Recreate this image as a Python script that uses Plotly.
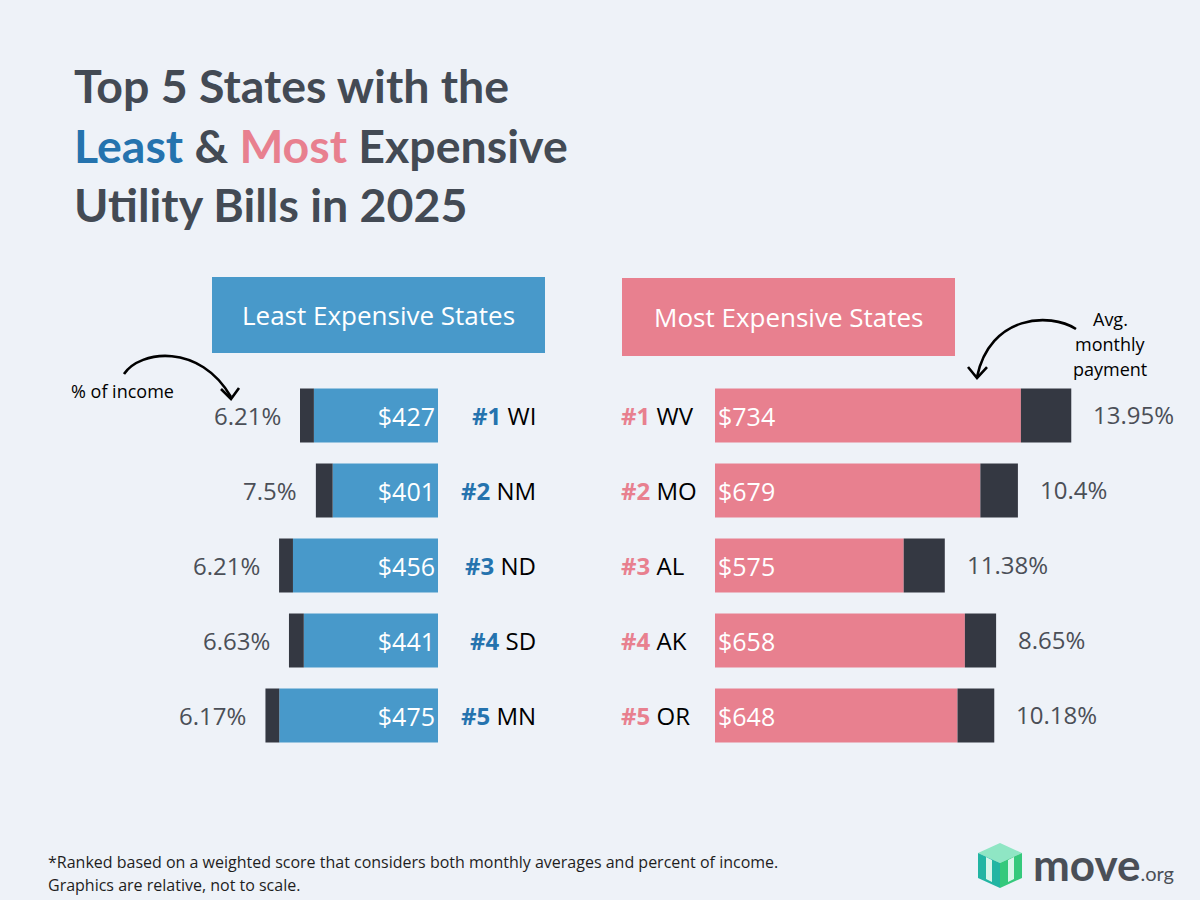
import plotly.graph_objects as go

# ---------------- data ----------------
least_ranks = [1, 2, 3, 4, 5]
least_states = ["WI", "NM", "ND", "SD", "MN"]
least_payment = [427, 401, 456, 441, 475]
least_pct = [6.21, 7.5, 6.21, 6.63, 6.17]

most_ranks = [1, 2, 3, 4, 5]
most_states = ["WV", "MO", "AL", "AK", "OR"]
most_payment = [734, 679, 575, 658, 648]
most_pct = [13.95, 10.4, 11.38, 8.65, 10.18]

# ---------------- style ----------------
W, H = 1200, 900
BG = "#EEF2F8"
BLUE = "#4899CA"
PINK = "#E8808F"
DARK = "#343842"
RANK_BLUE = "#2573AE"
TITLE_C = "#434A54"
PCT_C = "#4B4F57"
FONT = "'Open Sans', Lato, sans-serif"
TITLE_FONT = "Lato, 'Open Sans', sans-serif"

# "relative, not to scale" display scales
L_START = 255      # left axis start ($)
L_SPAN = 607       # left axis span ($)
L_PCT = 3.1        # $ units per % on left
R_START = 319
R_SPAN = 658
R_PCT = 4.9


def px(x):
    return x / W


def py(y):
    return 1 - y / H


fig = go.Figure()

# left panel bars
fig.add_trace(go.Bar(
    y=least_ranks, x=[v - L_START for v in least_payment], base=[L_START] * 5,
    orientation="h", width=0.72, marker=dict(color=BLUE, line=dict(width=0)),
    text=[f"${v}" for v in least_payment], textposition="inside",
    insidetextanchor="start", constraintext="none",
    textfont=dict(color="white", size=25, family=FONT),
    xaxis="x", yaxis="y", hoverinfo="skip", showlegend=False))
fig.add_trace(go.Bar(
    y=least_ranks, x=[p * L_PCT for p in least_pct], base=least_payment,
    orientation="h", width=0.72, marker=dict(color=DARK, line=dict(width=0)),
    xaxis="x", yaxis="y", hoverinfo="skip", showlegend=False))

# right panel bars
fig.add_trace(go.Bar(
    y=most_ranks, x=[v - R_START for v in most_payment], base=[R_START] * 5,
    orientation="h", width=0.72, marker=dict(color=PINK, line=dict(width=0)),
    text=[f"${v}" for v in most_payment], textposition="inside",
    insidetextanchor="start", constraintext="none",
    textfont=dict(color="white", size=25, family=FONT),
    xaxis="x2", yaxis="y2", hoverinfo="skip", showlegend=False))
fig.add_trace(go.Bar(
    y=most_ranks, x=[p * R_PCT for p in most_pct], base=most_payment,
    orientation="h", width=0.72, marker=dict(color=DARK, line=dict(width=0)),
    xaxis="x2", yaxis="y2", hoverinfo="skip", showlegend=False))

ydom = [py(753), py(378)]
fig.update_layout(
    width=W, height=H, margin=dict(l=0, r=0, t=0, b=0),
    paper_bgcolor=BG, plot_bgcolor=BG, barmode="overlay",
    font=dict(family=FONT),
    xaxis=dict(domain=[0, px(438)], range=[L_START + L_SPAN, L_START],
               visible=False, fixedrange=True),
    yaxis=dict(domain=ydom, range=[5.5, 0.5], visible=False, anchor="x"),
    xaxis2=dict(domain=[px(715), 1], range=[R_START, R_START + R_SPAN],
                visible=False, anchor="y2"),
    yaxis2=dict(domain=ydom, range=[5.5, 0.5], visible=False, anchor="x2"),
)

ann = []
# percent labels
for r, v, p in zip(least_ranks, least_payment, least_pct):
    ann.append(dict(x=v + p * L_PCT, y=r, xref="x", yref="y", xanchor="right",
                    yanchor="middle", xshift=-17, showarrow=False,
                    text=f"{p:g}%", font=dict(size=24, color=PCT_C)))
for r, v, p in zip(most_ranks, most_payment, most_pct):
    ann.append(dict(x=v + p * R_PCT, y=r, xref="x2", yref="y2", xanchor="left",
                    yanchor="middle", xshift=20, yshift=1, showarrow=False,
                    text=f"{p:g}%", font=dict(size=24, color=PCT_C)))
# rank labels
for r, s in zip(least_ranks, least_states):
    ann.append(dict(x=px(538), y=r, xref="paper", yref="y", xanchor="right",
                    yanchor="middle", showarrow=False,
                    text=f"<b><span style='color:{RANK_BLUE}'>#{r}</span></b> {s}",
                    font=dict(size=24, color="black")))
for r, s in zip(most_ranks, most_states):
    ann.append(dict(x=px(619), y=r, xref="paper", yref="y2", xanchor="left",
                    yanchor="middle", showarrow=False,
                    text=f"<b><span style='color:{PINK}'>#{r}</span></b> {s}",
                    font=dict(size=24, color="black")))

# title
title_lines = [
    "Top 5 States with the",
    f"<span style='color:{RANK_BLUE}'>Least</span> &amp; "
    f"<span style='color:{PINK}'>Most</span> Expensive",
    "Utility Bills in 2025",
]
for i, t in enumerate(title_lines):
    ann.append(dict(x=px(72), y=py(85 + 59.5 * i), xref="paper", yref="paper",
                    xanchor="left", yanchor="middle", showarrow=False,
                    text=f"<b>{t}</b>",
                    font=dict(size=46.5, color=TITLE_C, family=TITLE_FONT)))

# header boxes
shapes = [
    dict(type="rect", xref="paper", yref="paper", x0=px(212), x1=px(545),
         y0=py(353), y1=py(277), fillcolor=BLUE, line=dict(width=0), layer="below"),
    dict(type="rect", xref="paper", yref="paper", x0=px(622), x1=px(955),
         y0=py(356), y1=py(278), fillcolor=PINK, line=dict(width=0), layer="below"),
]
ann.append(dict(x=px(378.5), y=py(315), xref="paper", yref="paper",
                xanchor="center", yanchor="middle", showarrow=False,
                text="Least Expensive States", font=dict(size=26, color="white")))
ann.append(dict(x=px(788.5), y=py(317), xref="paper", yref="paper",
                xanchor="center", yanchor="middle", showarrow=False,
                text="Most Expensive States", font=dict(size=26, color="white")))

# annotation callouts
ann.append(dict(x=px(69), y=py(391), xref="paper", yref="paper", xanchor="left",
                yanchor="middle", showarrow=False, text="% of income",
                font=dict(size=18, color="black")))
for i, t in enumerate(["Avg.", "monthly", "payment"]):
    ann.append(dict(x=px(1110), y=py(319 + 25 * i), xref="paper", yref="paper",
                    xanchor="center", yanchor="middle", showarrow=False, text=t,
                    font=dict(size=18, color="black")))


def path(pts_cmd):
    out = []
    for item in pts_cmd:
        if isinstance(item, str):
            out.append(item)
        else:
            out.append(f"{px(item[0]):.5f},{py(item[1]):.5f}")
    return " ".join(out)


arrow_line = dict(color="black", width=2.6)
shapes += [
    dict(type="path", xref="paper", yref="paper", line=arrow_line,
         path=path(["M", (124, 374), "C", (140, 350), (200, 343), (231, 397)])),
    dict(type="path", xref="paper", yref="paper", line=arrow_line,
         path=path(["M", (221, 389), "L", (231, 399), "L", (239, 388)])),
    dict(type="path", xref="paper", yref="paper", line=arrow_line,
         path=path(["M", (1076, 329), "C", (1050, 312), (990, 315), (977, 377)])),
    dict(type="path", xref="paper", yref="paper", line=arrow_line,
         path=path(["M", (968, 367), "L", (977, 378), "L", (987, 367)])),
]

# footnote
ann.append(dict(x=px(46), y=py(862), xref="paper", yref="paper", xanchor="left",
                yanchor="middle", showarrow=False,
                text="*Ranked based on a weighted score that considers both monthly averages and percent of income.",
                font=dict(size=16, color="#1E1E1E")))
ann.append(dict(x=px(46), y=py(885), xref="paper", yref="paper", xanchor="left",
                yanchor="middle", showarrow=False,
                text="Graphics are relative, not to scale.",
                font=dict(size=16, color="#1E1E1E")))

# logo
logo_polys = [
    ([(978, 853), (1000, 843), (1022, 853), (1000, 863)], "#8FE6C4"),
    ([(978, 853), (1000, 863), (1000, 888), (978, 878)], "#22B5A3"),
    ([(1000, 863), (1022, 853), (1022, 878), (1000, 888)], "#35C97C"),
    ([(986, 857), (992, 860), (992, 882), (986, 879)], "#D8F5EA"),
    ([(1008, 860), (1014, 857), (1014, 879), (1008, 882)], "#D8F5EA"),
]
for pts, col in logo_polys:
    d = "M " + " L ".join(f"{px(a):.5f},{py(b):.5f}" for a, b in pts) + " Z"
    shapes.append(dict(type="path", xref="paper", yref="paper", path=d,
                       fillcolor=col, line=dict(width=0)))
ann.append(dict(x=px(1031), y=py(864), xref="paper", yref="paper", xanchor="left",
                yanchor="middle", showarrow=False,
                text="<b>move</b><span style='font-size:20px'>.org</span>",
                font=dict(size=44, color="#4A4F57", family=TITLE_FONT)))

fig.update_layout(annotations=ann, shapes=shapes)
fig.write_html("out.html")
